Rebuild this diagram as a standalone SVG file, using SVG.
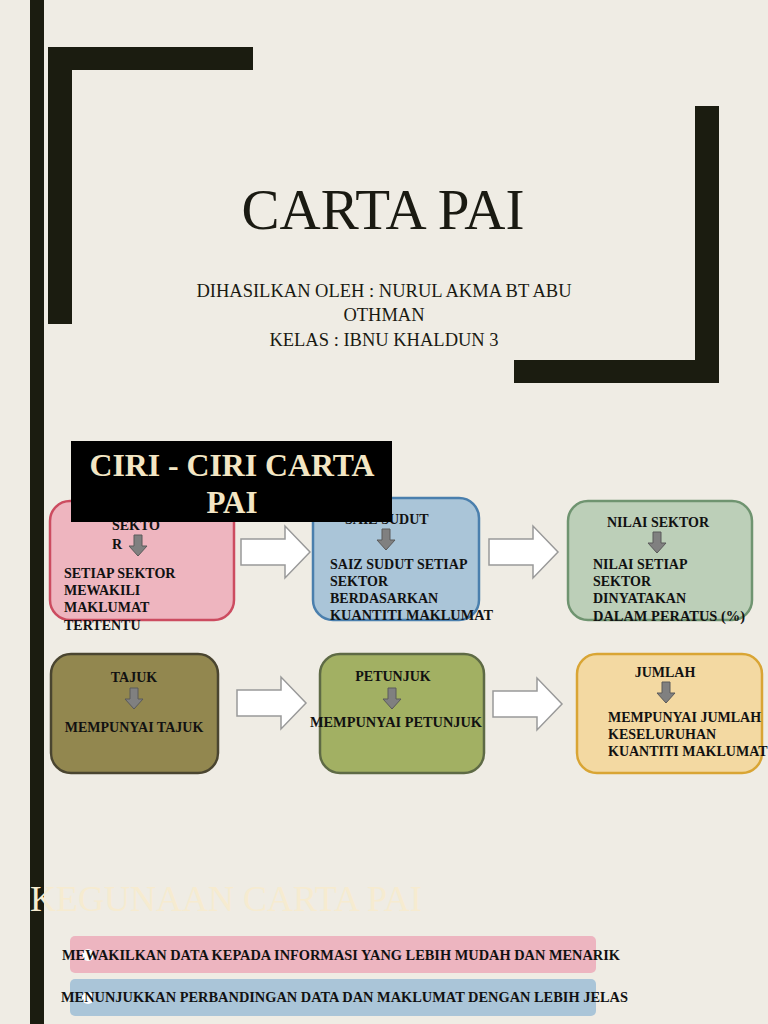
<svg xmlns="http://www.w3.org/2000/svg" width="768" height="1024" viewBox="0 0 768 1024">
<defs>
<style>
.t{font-family:"Liberation Serif",serif;fill:#1a1a12}
.b{font-family:"Liberation Serif",serif;font-weight:bold;font-size:14px;fill:#111}
.box{stroke-width:2.5}
.arr{fill:#fff;stroke:#999;stroke-width:1.5}
.da{fill:#808080;stroke:#5a5a5a;stroke-width:1}
</style>
<g id="da"><path class="da" d="M-4,0 h8 v11 h5 l-9,10 l-9,-10 h5 z"/></g>
<g id="ba"><path class="arr" d="M0,-13 h44 v-13 l25,26 l-25,26 v-13 h-44 z"/></g>
</defs>
<rect width="768" height="1024" fill="#efece4"/>
<rect x="30" y="0" width="14" height="1024" fill="#1b1c10"/>
<path d="M48,47 H253 V70 H72 V324 H48 Z" fill="#1b1c10"/>
<path d="M695,106 H719 V383 H514 V360 H695 Z" fill="#1b1c10"/>
<text class="t" x="383" y="229" font-size="57" text-anchor="middle">CARTA PAI</text>
<text class="t" x="384" y="297" font-size="18.5" text-anchor="middle">DIHASILKAN OLEH : NURUL AKMA BT ABU</text>
<text class="t" x="384" y="321" font-size="18.5" text-anchor="middle">OTHMAN</text>
<text class="t" x="384" y="346" font-size="18.5" text-anchor="middle">KELAS : IBNU KHALDUN 3</text>
<g id="connectors">
<use href="#ba" x="241" y="552"/>
<use href="#ba" x="489" y="552"/>
<use href="#ba" x="237" y="703"/>
<use href="#ba" x="493" y="704"/>
</g>
<g id="n1"><rect class="box" x="50" y="501" width="184" height="119" rx="20" fill="#eeb5bf" stroke="#cc4c60"/>
<text class="b" x="112" y="530">SEKTO</text><text class="b" x="112" y="549">R</text><use href="#da" x="138" y="535"/>
<text class="b" x="64" y="578">SETIAP SEKTOR</text><text class="b" x="64" y="595">MEWAKILI</text><text class="b" x="64" y="612">MAKLUMAT</text><text class="b" x="64" y="630">TERTENTU</text></g>
<g id="n2"><rect class="box" x="313" y="498" width="166" height="122" rx="20" fill="#aac5d8" stroke="#4a7fad"/>
<text class="b" x="345" y="524">SAIZ SUDUT</text><use href="#da" x="386" y="529"/>
<text class="b" x="330" y="569">SAIZ SUDUT SETIAP</text><text class="b" x="330" y="586">SEKTOR</text><text class="b" x="330" y="603">BERDASARKAN</text><text class="b" x="330" y="620" textLength="163" lengthAdjust="spacingAndGlyphs">KUANTITI MAKLUMAT</text></g>
<g id="title"><rect x="71" y="441" width="321" height="81" fill="#000"/>
<text x="232" y="476" text-anchor="middle" font-family="Liberation Serif,serif" font-weight="bold" font-size="31" fill="#f3e6c4" textLength="285" lengthAdjust="spacingAndGlyphs">CIRI - CIRI CARTA</text>
<text x="232" y="513" text-anchor="middle" font-family="Liberation Serif,serif" font-weight="bold" font-size="31" fill="#f3e6c4">PAI</text></g>
<g id="n3"><rect class="box" x="568" y="501" width="184" height="119" rx="20" fill="#bccfb8" stroke="#6f9470"/>
<text class="b" x="607" y="527">NILAI SEKTOR</text><use href="#da" x="657" y="532"/>
<text class="b" x="593" y="569">NILAI SETIAP</text><text class="b" x="593" y="586">SEKTOR</text><text class="b" x="593" y="603">DINYATAKAN</text><text class="b" x="593" y="621" textLength="152" lengthAdjust="spacingAndGlyphs">DALAM PERATUS (%)</text></g>
<g id="n4"><rect class="box" x="51" y="654" width="167" height="119" rx="20" fill="#92874f" stroke="#4a4530"/>
<text class="b" x="134" y="682" text-anchor="middle">TAJUK</text><use href="#da" x="134" y="688"/>
<text class="b" x="134" y="732" text-anchor="middle">MEMPUNYAI TAJUK</text></g>
<g id="n5"><rect class="box" x="320" y="654" width="164" height="119" rx="20" fill="#a2b063" stroke="#5e6a45"/>
<text class="b" x="393" y="681" text-anchor="middle">PETUNJUK</text><use href="#da" x="392" y="688"/>
<text class="b" x="310" y="727" textLength="172" lengthAdjust="spacingAndGlyphs">MEMPUNYAI PETUNJUK</text></g>
<g id="n6"><rect class="box" x="577" y="654" width="185" height="119" rx="20" fill="#f3d9a2" stroke="#d9a534"/>
<text class="b" x="665" y="677" text-anchor="middle">JUMLAH</text><use href="#da" x="666" y="682"/>
<text class="b" x="608" y="722">MEMPUNYAI JUMLAH</text><text class="b" x="608" y="739">KESELURUHAN</text><text class="b" x="608" y="756">KUANTITI MAKLUMAT</text></g>
<text x="30" y="911" font-family="Liberation Serif,serif" font-size="36" fill="#f6ebd0">KEGUNAAN CARTA PAI</text>
<g id="u1"><rect x="70" y="936" width="526" height="37" rx="5" fill="#edb5c0"/><circle cx="88" cy="955" r="6" fill="#fff"/>
<text class="b" x="62" y="960" textLength="558" lengthAdjust="spacingAndGlyphs">MEWAKILKAN DATA KEPADA INFORMASI YANG LEBIH MUDAH DAN MENARIK</text></g>
<g id="u2"><rect x="70" y="979" width="526" height="37" rx="5" fill="#aac5d8"/><circle cx="88" cy="998" r="6" fill="#fff"/>
<text class="b" x="61" y="1002" textLength="567" lengthAdjust="spacingAndGlyphs">MENUNJUKKAN PERBANDINGAN DATA DAN MAKLUMAT DENGAN LEBIH JELAS</text></g>
</svg>
